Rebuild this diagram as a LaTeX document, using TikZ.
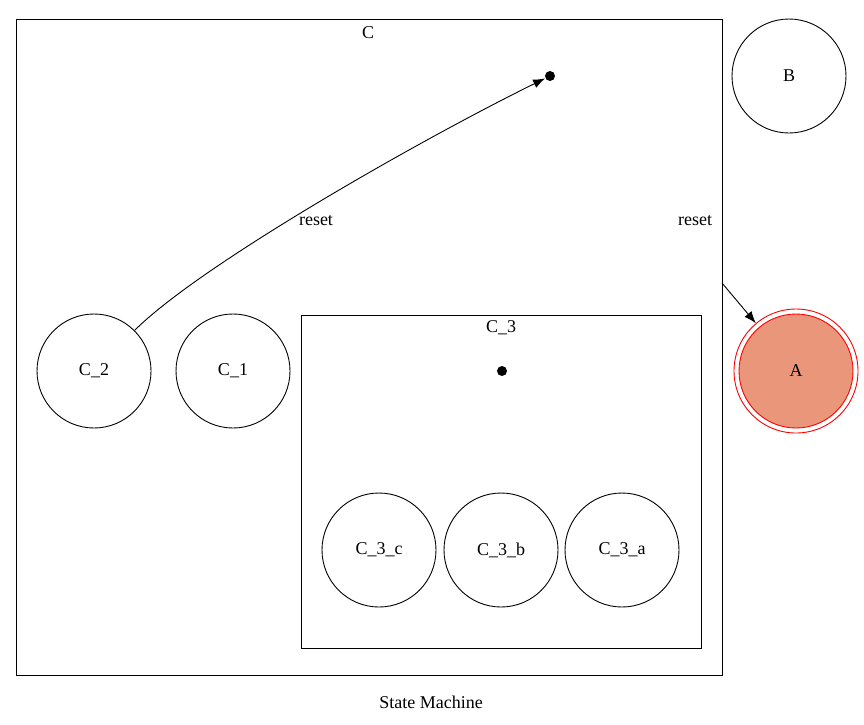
\documentclass[tikz,border=0pt]{standalone}
\usepackage{fontspec}
\setmainfont{Liberation Serif}
\usetikzlibrary{arrows.meta}
\begin{document}
\begin{tikzpicture}[x=1pt,y=-1pt,line width=0.9pt,
  st/.style={circle,draw,minimum size=114pt,inner sep=0pt},
  pt/.style={circle,fill,inner sep=0pt,minimum size=10pt},
  arr/.style={-{Latex[length=12pt,width=9pt]}}]
\useasboundingbox (0,0) rectangle (864,724);
\begin{scope}[every node/.append style={font=\fontsize{18}{20}\selectfont}]
\draw (16,19) rectangle (722,675);
\node (Clab) at (368,33) {C};
\draw (301,315) rectangle (701,648);
\node (C3lab) at (501,328) {C\_3};
\node[st] (B) at (789,76) {B};
\node[st,draw=red,fill=none,minimum size=124pt] (Ao) at (796,371) {};
\node[st,draw=red,fill={rgb,255:red,233;green,150;blue,122}] (A) at (796,371) {A};
\node[pt] (p1) at (550,76) {};
\node[pt] (p2) at (502,371) {};
\node[st] (C2) at (94,371) {C\_2};
\node[st] (C1) at (233,371) {C\_1};
\node[st] (C3c) at (379,550) {C\_3\_c};
\node[st] (C3b) at (501,550) {C\_3\_b};
\node[st] (C3a) at (622,550) {C\_3\_a};
\coordinate (cexit) at (722,283);
\draw[arr] (cexit) -- (Ao);
\node at (695,221) {reset};
\draw[arr] (C2) .. controls (200,265) and (420,140) .. (p1);
\node at (316,221) {reset};
\node at (431,702) {State Machine};
\end{scope}
\end{tikzpicture}
\end{document}
